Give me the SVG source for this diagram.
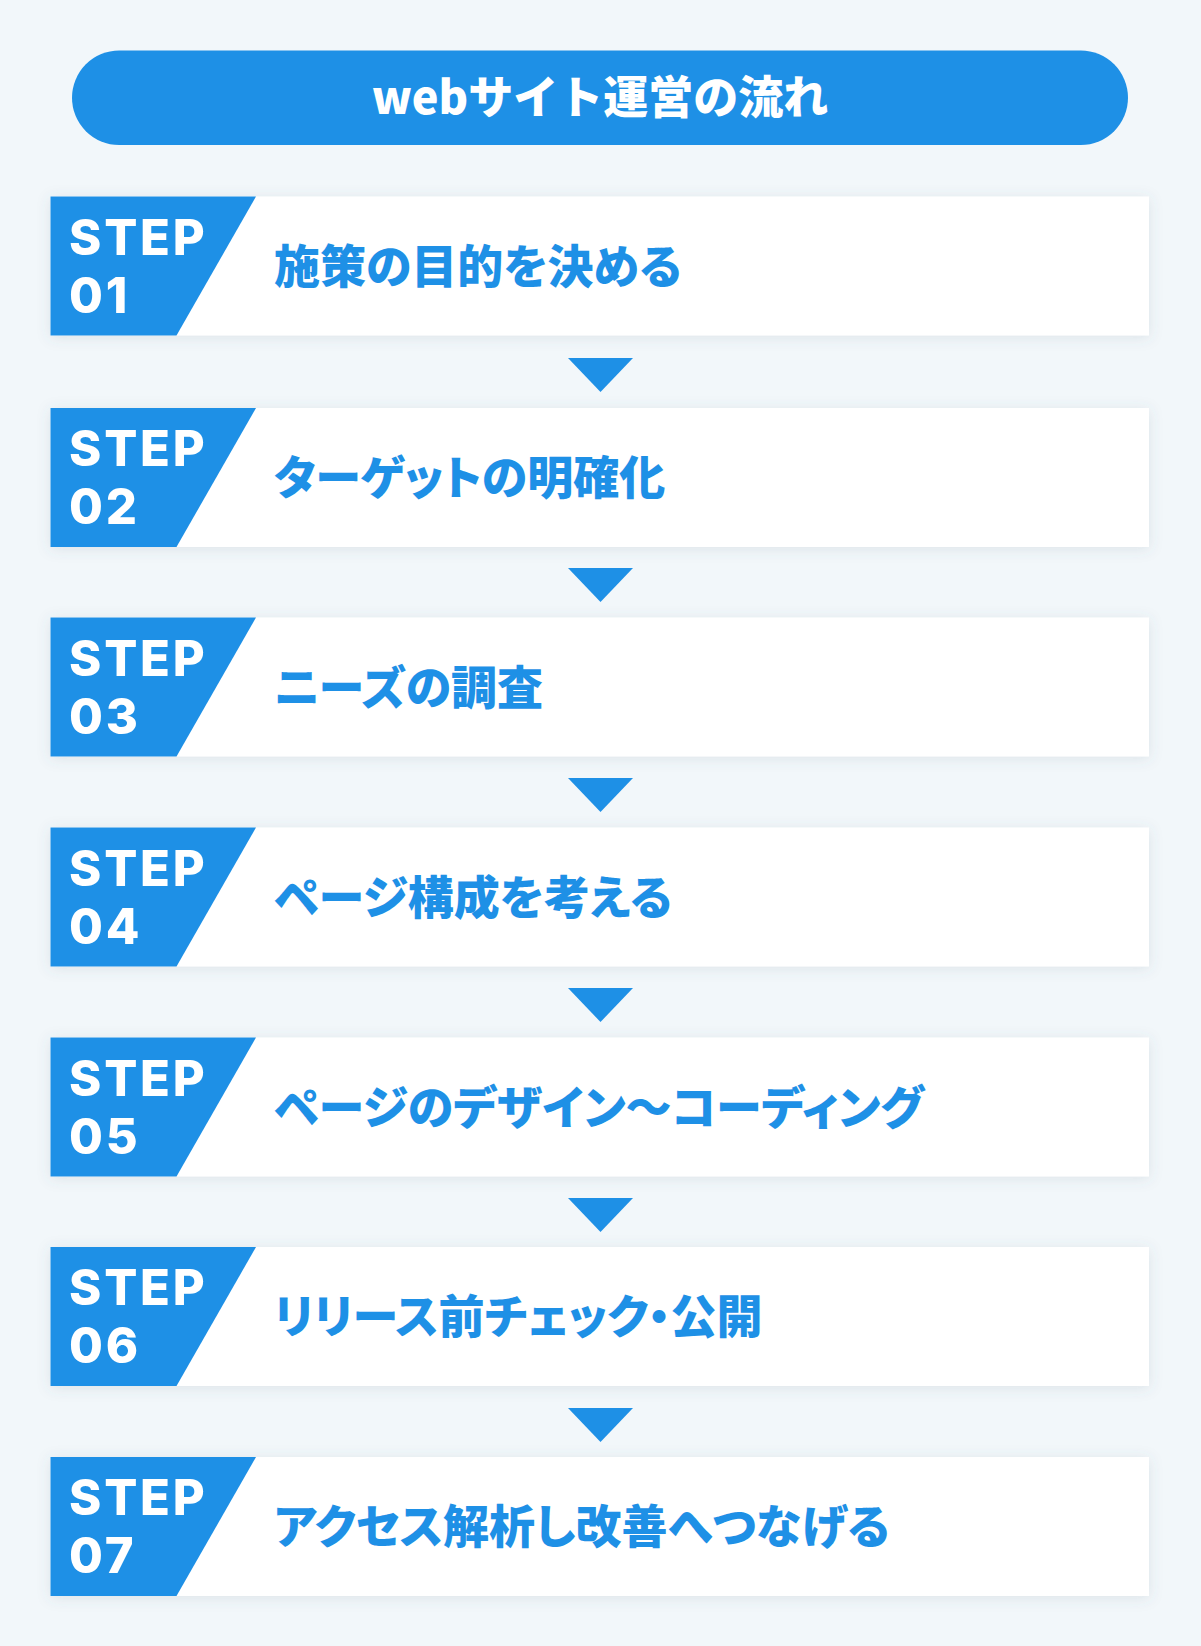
<svg xmlns="http://www.w3.org/2000/svg" width="1201" height="1646" viewBox="0 0 1201 1646">
<defs>
<style>
.bg{fill:#F2F7FA}
.blue{fill:#1E90E6}
.card{fill:#FFFFFF;filter:url(#sh)}
.step{font-family:Inter,"Open Sans","Liberation Sans",sans-serif;font-weight:800;font-size:49px;fill:#FFFFFF;letter-spacing:2.8px}
.lbl{font-family:"Noto Sans CJK JP","Noto Sans",sans-serif;font-weight:900;font-size:46px;fill:#1E90E6;font-feature-settings:"palt"}
.title{font-family:"Noto Sans CJK JP","Noto Sans",sans-serif;font-weight:900;font-size:45px;fill:#FFFFFF}
</style>
<filter id="sh" x="-10%" y="-30%" width="120%" height="160%">
<feDropShadow dx="0" dy="2" stdDeviation="7" flood-color="#50697d" flood-opacity="0.14"/>
</filter>
</defs>
<rect class="bg" x="0" y="0" width="1201" height="1646"/>
<g id="title">
<rect class="blue" x="72" y="50.5" width="1056" height="94.5" rx="47.25"/>
<text class="title" x="600" y="114" text-anchor="middle">webサイト運営の流れ</text>
</g>
<g id="connectors">
<polygon class="blue" points="568,358 633,358 600.5,392"/>
<polygon class="blue" points="568,568 633,568 600.5,602"/>
<polygon class="blue" points="568,778 633,778 600.5,812"/>
<polygon class="blue" points="568,988 633,988 600.5,1022"/>
<polygon class="blue" points="568,1198 633,1198 600.5,1232"/>
<polygon class="blue" points="568,1408 633,1408 600.5,1442"/>
</g>
<g id="step1" transform="translate(0,196.5)">
<rect class="card" x="50.5" y="0" width="1098.5" height="139"/>
<polygon class="blue" points="50.5,0 256,0 176.5,139 50.5,139"/>
<text class="step" x="69" y="58">STEP</text>
<text class="step" x="69" y="116">01</text>
<text class="lbl" x="274" y="86">施策の目的を決める</text>
</g>
<g id="step2" transform="translate(0,408)">
<rect class="card" x="50.5" y="0" width="1098.5" height="139"/>
<polygon class="blue" points="50.5,0 256,0 176.5,139 50.5,139"/>
<text class="step" x="69" y="58">STEP</text>
<text class="step" x="69" y="116">02</text>
<text class="lbl" x="274" y="86">ターゲットの明確化</text>
</g>
<g id="step3" transform="translate(0,617.5)">
<rect class="card" x="50.5" y="0" width="1098.5" height="139"/>
<polygon class="blue" points="50.5,0 256,0 176.5,139 50.5,139"/>
<text class="step" x="69" y="58">STEP</text>
<text class="step" x="69" y="116">03</text>
<text class="lbl" x="274" y="86">ニーズの調査</text>
</g>
<g id="step4" transform="translate(0,827.5)">
<rect class="card" x="50.5" y="0" width="1098.5" height="139"/>
<polygon class="blue" points="50.5,0 256,0 176.5,139 50.5,139"/>
<text class="step" x="69" y="58">STEP</text>
<text class="step" x="69" y="116">04</text>
<text class="lbl" x="274" y="86">ページ構成を考える</text>
</g>
<g id="step5" transform="translate(0,1037.5)">
<rect class="card" x="50.5" y="0" width="1098.5" height="139"/>
<polygon class="blue" points="50.5,0 256,0 176.5,139 50.5,139"/>
<text class="step" x="69" y="58">STEP</text>
<text class="step" x="69" y="116">05</text>
<text class="lbl" x="274" y="86">ページのデザイン〜コーディング</text>
</g>
<g id="step6" transform="translate(0,1247)">
<rect class="card" x="50.5" y="0" width="1098.5" height="139"/>
<polygon class="blue" points="50.5,0 256,0 176.5,139 50.5,139"/>
<text class="step" x="69" y="58">STEP</text>
<text class="step" x="69" y="116">06</text>
<text class="lbl" x="274" y="86">リリース前チェック・公開</text>
</g>
<g id="step7" transform="translate(0,1457)">
<rect class="card" x="50.5" y="0" width="1098.5" height="139"/>
<polygon class="blue" points="50.5,0 256,0 176.5,139 50.5,139"/>
<text class="step" x="69" y="58">STEP</text>
<text class="step" x="69" y="116">07</text>
<text class="lbl" x="274" y="86">アクセス解析し改善へつなげる</text>
</g>
</svg>
